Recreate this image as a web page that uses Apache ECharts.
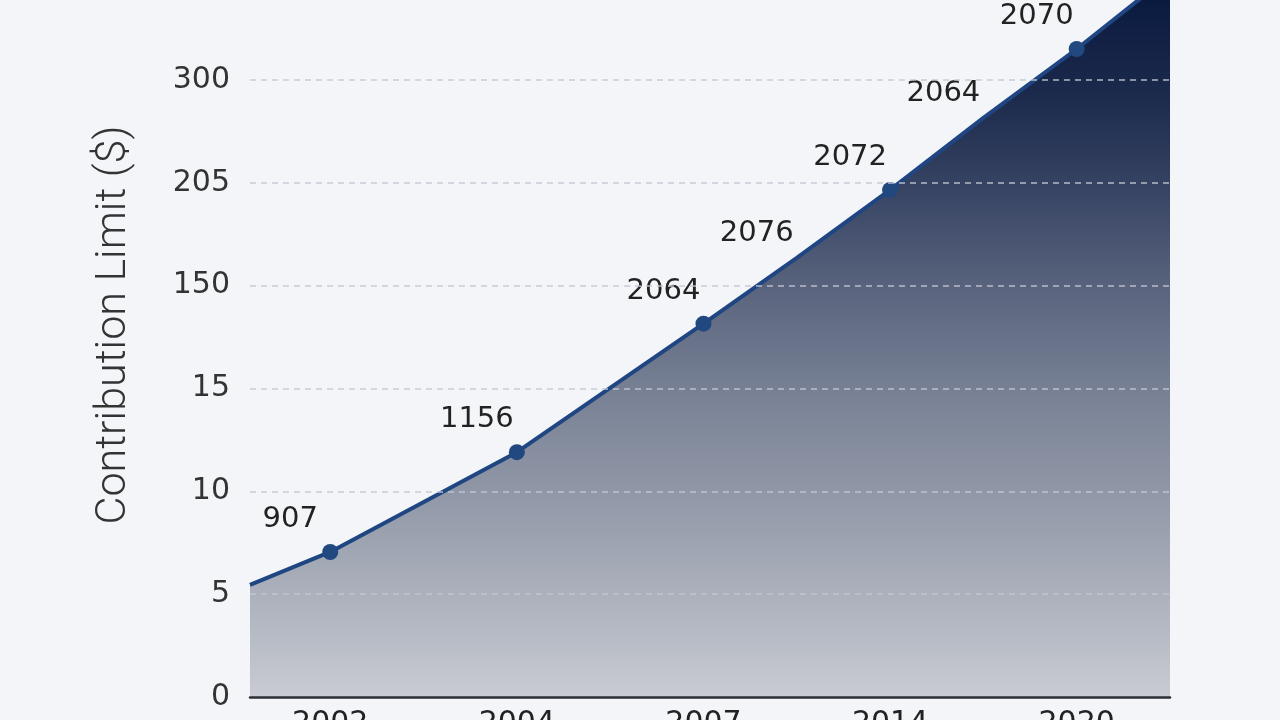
<!DOCTYPE html>
<html>
<head>
<meta charset="utf-8">
<script src="https://cdn.jsdelivr.net/npm/echarts@6/dist/echarts.min.js"></script>
<style>
  html, body { margin: 0; padding: 0; background: #f3f5f8; }
  #chart { width: 1280px; height: 720px; }
</style>
</head>
<body>
<div id="chart"></div>
<script>
// y ticks are evenly spaced but labelled oddly, so values are in tick steps
var yTickLabels = ['0', '5', '10', '15', '150', '205', '300'];
var xTickPos = [1, 2, 3, 4, 5];
var xTickLabels = ['2002', '2004', '2007', '2014', '2020'];

// line points (x in tick steps, y in tick steps)
var xVals = [0.57, 1, 2, 3, 3.5, 4, 4.5, 5, 5.5];
var yVals = [1.09, 1.41, 2.38, 3.63, 4.27, 4.93, 5.63, 6.30, 7.02];
var pointLabels = ['', '907', '1156', '2064', '2076', '2072', '2064', '2070', ''];
var showSymbol = [false, true, true, true, false, true, false, true, false];

var chart = echarts.init(document.getElementById('chart'));

var seriesData = xVals.map(function (x, i) {
  return {
    value: [x, yVals[i]],
    symbolSize: showSymbol[i] ? 16 : 0,
    label: { show: pointLabels[i] !== '', formatter: pointLabels[i] }
  };
});

var option = {
  backgroundColor: '#f3f5f8',
  animation: false,
  grid: { left: 250, right: 110, top: -23, bottom: 23, outerBoundsMode: 'none', containLabel: false },
  xAxis: {
    type: 'value',
    min: 0.57,
    max: 5.5,
    z: 6,
    axisLine: { show: true, lineStyle: { color: '#2b2f36', width: 2.5 } },
    axisTick: { show: false },
    splitLine: { show: false },
    axisLabel: {
      customValues: xTickPos,
      margin: 12,
      fontSize: 30,
      color: '#222',
      fontFamily: 'DejaVu Sans',
      formatter: function (v) {
        var i = xTickPos.indexOf(v);
        return i >= 0 ? xTickLabels[i] : '';
      }
    }
  },
  yAxis: {
    type: 'value',
    min: 0,
    max: 7,
    interval: 1,
    z: 5,
    name: 'Contribution Limit ($)',
    nameLocation: 'middle',
    nameGap: 114,
    nameRotate: 90,
    nameTextStyle: { fontSize: 43, color: '#333', fontFamily: 'Roboto', fontWeight: 300, padding: [0, 0, 0, 24] },
    axisLine: { show: false },
    axisTick: { show: false },
    axisLabel: {
      margin: 20,
      fontSize: 30,
      color: '#333',
      fontFamily: 'DejaVu Sans',
      formatter: function (v) {
        return yTickLabels[v] !== undefined ? yTickLabels[v] : '';
      }
    },
    splitLine: {
      show: true,
      lineStyle: { type: [6, 5], color: 'rgba(195,200,210,0.9)', width: 1.5 }
    }
  },
  series: [{
    type: 'line',
    data: seriesData,
    symbol: 'circle',
    itemStyle: { color: '#22497f' },
    lineStyle: { color: '#1f4682', width: 4 },
    label: {
      position: 'top',
      distance: 10,
      offset: [-40, 0],
      fontSize: 29,
      color: '#222',
      fontFamily: 'DejaVu Sans'
    },
    areaStyle: {
      opacity: 1,
      color: new echarts.graphic.LinearGradient(0, 0, 0, 1, [
        { offset: 0, color: '#06163c' },
        { offset: 0.17, color: '#1c2a4c' },
        { offset: 0.31, color: '#3a4766' },
        { offset: 0.45, color: '#5d6780' },
        { offset: 0.59, color: '#7a8396' },
        { offset: 0.73, color: '#9299a8' },
        { offset: 1, color: '#c8cbd2' }
      ])
    }
  }]
};

chart.setOption(option);
</script>
</body>
</html>
